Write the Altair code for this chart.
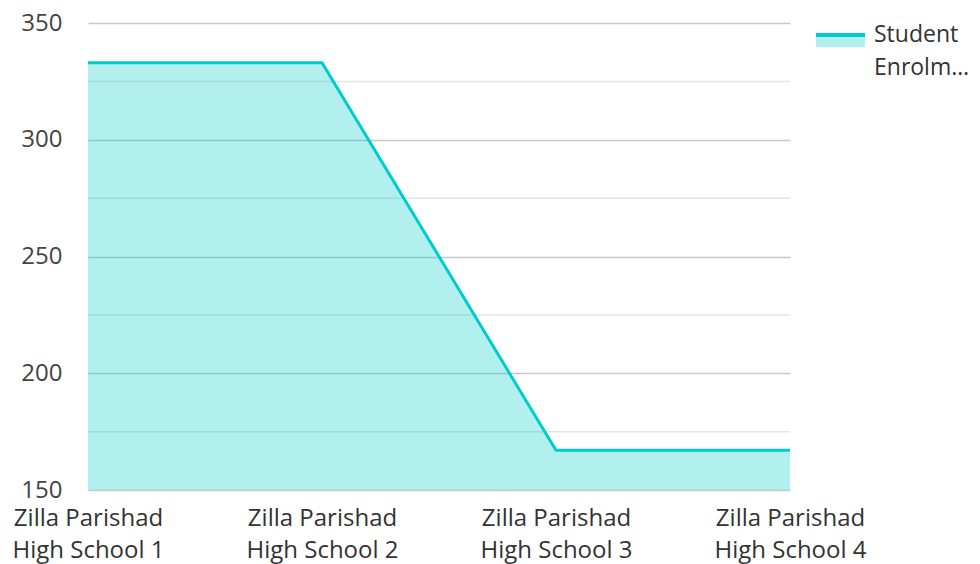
import altair as alt
import pandas as pd

schools = ["Zilla Parishad High School 1", "Zilla Parishad High School 2",
           "Zilla Parishad High School 3", "Zilla Parishad High School 4"]
enrolment = [333, 333, 167, 167]
series_name = "Student Enrolment"
major_ticks = [150, 200, 250, 300, 350]
minor_ticks = [175, 225, 275, 325]

FONT = "Open Sans"
LINE = "#00CCCC"
FS = 24

df = pd.DataFrame({"school": schools, "value": enrolment, "series": series_name})
minor_df = pd.DataFrame({"value": minor_ticks})

x = alt.X("school:N", sort=schools, scale=alt.Scale(type="point", padding=0),
          axis=alt.Axis(title=None, labelAngle=0, labelFontSize=FS, labelFont=FONT,
                        labelColor="#333333", labelPadding=16, labelLineHeight=32,
                        labelExpr="[substring(datum.label, 0, 14), substring(datum.label, 15)]",
                        ticks=False, domain=False, grid=False, labelLimit=300))
yaxis = alt.Axis(title=None, values=major_ticks, labelFontSize=FS, labelFont=FONT,
                 labelColor="#444444", labelPadding=26, ticks=False, domain=False,
                 grid=True, gridColor="#c8c8c8", gridWidth=1.5)
yscale = alt.Scale(domain=[150, 350], nice=False, zero=False)
y = alt.Y("value:Q", scale=yscale, axis=yaxis)

minor = alt.Chart(minor_df).mark_rule(color="#e4e4e4", strokeWidth=1.5).encode(
    y=alt.Y("value:Q", scale=yscale, axis=yaxis),
    x=alt.value(0), x2=alt.value(702))

area = alt.Chart(df).mark_area(color=LINE, opacity=0.3).encode(
    x=x, y=y, y2=alt.datum(150))
line = alt.Chart(df).mark_line(color=LINE, strokeWidth=3).encode(x=x, y=y)

leg_df = pd.DataFrame({"series": [series_name]})
leg_rect = alt.Chart(leg_df).mark_rect(color=LINE, opacity=0.3).encode(
    x=alt.value(728), x2=alt.value(777), y=alt.value(10), y2=alt.value(24))
leg_line = alt.Chart(leg_df).mark_rule(color=LINE, strokeWidth=4).encode(
    x=alt.value(728), x2=alt.value(777), y=alt.value(12))
leg_text = alt.Chart(leg_df).mark_text(align="left", baseline="middle", fontSize=23,
                                       font=FONT, color="#333333", lineHeight=33).encode(
    x=alt.value(786), y=alt.value(12), text=alt.value(["Student", "Enrolm…"]))

chart = alt.layer(minor, area, line, leg_rect, leg_line, leg_text).properties(
    width=702, height=467,
    autosize=alt.AutoSizeParams(type="none"),
    padding={"left": 80, "top": 15, "right": 182, "bottom": 74},
).configure_view(stroke=None)

chart.save("out.html", embed_options={"renderer": "svg", "actions": False})
